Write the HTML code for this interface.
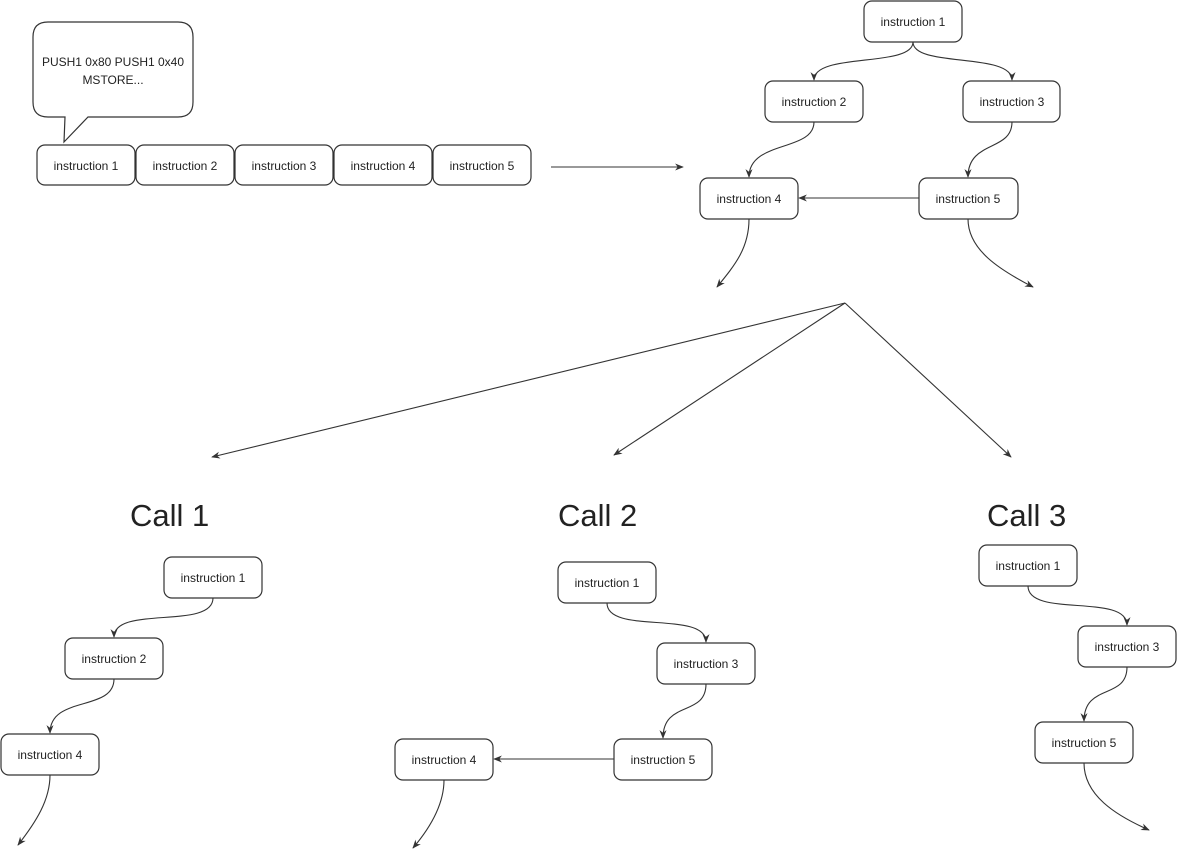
<!DOCTYPE html>
<html><head><style>
html,body{margin:0;padding:0;background:#fff;width:1177px;height:849px;overflow:hidden}
svg{display:block}
text{font-family:"Liberation Sans",sans-serif;fill:#222}
.b{fill:#fff;stroke:#333;stroke-width:1.2}
.t{font-size:12px;text-anchor:middle}
.l{fill:none;stroke:#333;stroke-width:1.1}
</style></head><body>
<svg width="1177" height="849" viewBox="0 0 1177 849">
<defs><marker id="a" viewBox="0 0 10 10" refX="9" refY="5" markerWidth="8" markerHeight="8" orient="auto-start-reverse"><path d="M0,1 L10,5 L0,9 L3,5 z" fill="#333"/></marker></defs>

<path class="b" d="M48,22 H178 Q193,22 193,37 V102 Q193,117 178,117 H88 L64,142 L65,117 H48 Q33,117 33,102 V37 Q33,22 48,22 Z"/>
<text class="t" x="113" y="66">PUSH1 0x80 PUSH1 0x40</text>
<text class="t" x="113" y="84">MSTORE...</text>

<rect class="b" x="37" y="145" width="98" height="40" rx="8"/><text class="t" x="86" y="170">instruction 1</text>
<rect class="b" x="136" y="145" width="98" height="40" rx="8"/><text class="t" x="185" y="170">instruction 2</text>
<rect class="b" x="235" y="145" width="98" height="40" rx="8"/><text class="t" x="284" y="170">instruction 3</text>
<rect class="b" x="334" y="145" width="98" height="40" rx="8"/><text class="t" x="383" y="170">instruction 4</text>
<rect class="b" x="433" y="145" width="98" height="40" rx="8"/><text class="t" x="482" y="170">instruction 5</text>
<path class="l" d="M551,167 H683" marker-end="url(#a)"/>

<rect class="b" x="864" y="1" width="98" height="41" rx="8"/><text class="t" x="913" y="26">instruction 1</text>
<rect class="b" x="765" y="81" width="98" height="41" rx="8"/><text class="t" x="814" y="106">instruction 2</text>
<rect class="b" x="963" y="81" width="97" height="41" rx="8"/><text class="t" x="1012" y="106">instruction 3</text>
<rect class="b" x="700" y="178" width="98" height="41" rx="8"/><text class="t" x="749" y="203">instruction 4</text>
<rect class="b" x="919" y="178" width="99" height="41" rx="8"/><text class="t" x="968" y="203">instruction 5</text>
<path class="l" d="M913,42 C913,68 814,52 814,80" marker-end="url(#a)"/>
<path class="l" d="M913,42 C913,68 1012,52 1012,80" marker-end="url(#a)"/>
<path class="l" d="M814,122 C814,152 749,140 749,177" marker-end="url(#a)"/>
<path class="l" d="M1012,122 C1012,152 968,140 968,177" marker-end="url(#a)"/>
<path class="l" d="M919,198 H799" marker-end="url(#a)"/>
<path class="l" d="M749,219 C749,248 735,265 717,287" marker-end="url(#a)"/>
<path class="l" d="M968,219 C968,250 1000,270 1033,287" marker-end="url(#a)"/>

<path class="l" d="M845,303 L212,457" marker-end="url(#a)"/>
<path class="l" d="M845,303 L614,455" marker-end="url(#a)"/>
<path class="l" d="M845,303 L1011,457" marker-end="url(#a)"/>

<text x="130" y="526" style="font-size:31px">Call 1</text>
<text x="558" y="526" style="font-size:31px">Call 2</text>
<text x="987" y="526" style="font-size:31px">Call 3</text>

<rect class="b" x="164" y="557" width="98" height="41" rx="8"/><text class="t" x="213" y="582">instruction 1</text>
<rect class="b" x="65" y="638" width="98" height="41" rx="8"/><text class="t" x="114" y="663">instruction 2</text>
<rect class="b" x="1" y="734" width="98" height="41" rx="8"/><text class="t" x="50" y="759">instruction 4</text>
<path class="l" d="M213,598 C213,630 114,605 114,637" marker-end="url(#a)"/>
<path class="l" d="M114,679 C114,712 50,695 50,733" marker-end="url(#a)"/>
<path class="l" d="M50,775 C50,800 36,822 18,845" marker-end="url(#a)"/>

<rect class="b" x="558" y="562" width="98" height="41" rx="8"/><text class="t" x="607" y="587">instruction 1</text>
<rect class="b" x="657" y="643" width="98" height="41" rx="8"/><text class="t" x="706" y="668">instruction 3</text>
<rect class="b" x="614" y="739" width="98" height="41" rx="8"/><text class="t" x="663" y="764">instruction 5</text>
<rect class="b" x="395" y="739" width="98" height="41" rx="8"/><text class="t" x="444" y="764">instruction 4</text>
<path class="l" d="M607,603 C607,635 706,610 706,642" marker-end="url(#a)"/>
<path class="l" d="M706,684 C706,717 663,700 663,738" marker-end="url(#a)"/>
<path class="l" d="M614,759 H494" marker-end="url(#a)"/>
<path class="l" d="M444,780 C444,805 430,828 413,848" marker-end="url(#a)"/>

<rect class="b" x="979" y="545" width="98" height="41" rx="8"/><text class="t" x="1028" y="570">instruction 1</text>
<rect class="b" x="1078" y="626" width="98" height="41" rx="8"/><text class="t" x="1127" y="651">instruction 3</text>
<rect class="b" x="1035" y="722" width="98" height="41" rx="8"/><text class="t" x="1084" y="747">instruction 5</text>
<path class="l" d="M1028,586 C1028,618 1127,593 1127,625" marker-end="url(#a)"/>
<path class="l" d="M1127,667 C1127,700 1084,683 1084,721" marker-end="url(#a)"/>
<path class="l" d="M1084,763 C1084,795 1115,815 1149,830" marker-end="url(#a)"/>
</svg>
</body></html>
